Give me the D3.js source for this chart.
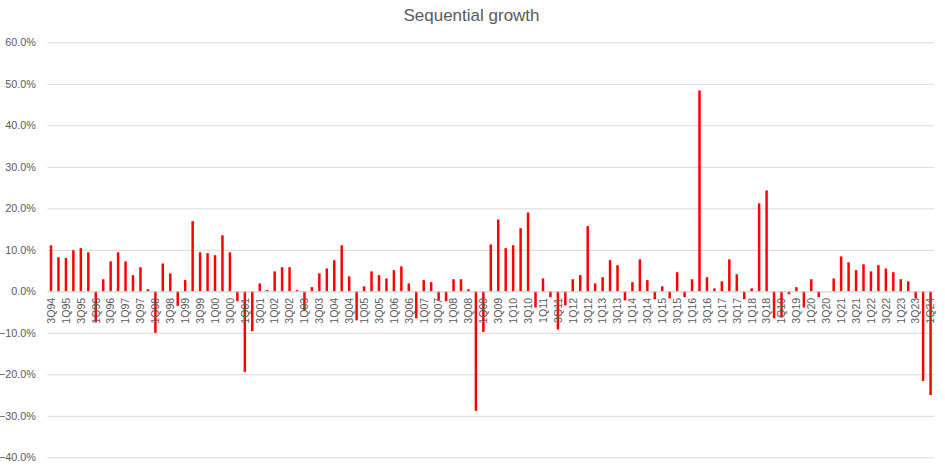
<!DOCTYPE html>
<html>
<head>
<meta charset="utf-8">
<script src="https://cdn.jsdelivr.net/npm/d3@7"></script>
<style>
  html, body { margin: 0; padding: 0; background: #ffffff; }
  svg { display: block; }
</style>
</head>
<body>
<svg id="chart" width="945" height="467"></svg>
<script>
const title = "Sequential growth";

const quarters = [
  "3Q94","4Q94",
  "1Q95","2Q95","3Q95","4Q95",
  "1Q96","2Q96","3Q96","4Q96",
  "1Q97","2Q97","3Q97","4Q97",
  "1Q98","2Q98","3Q98","4Q98",
  "1Q99","2Q99","3Q99","4Q99",
  "1Q00","2Q00","3Q00","4Q00",
  "1Q01","2Q01","3Q01","4Q01",
  "1Q02","2Q02","3Q02","4Q02",
  "1Q03","2Q03","3Q03","4Q03",
  "1Q04","2Q04","3Q04","4Q04",
  "1Q05","2Q05","3Q05","4Q05",
  "1Q06","2Q06","3Q06","4Q06",
  "1Q07","2Q07","3Q07","4Q07",
  "1Q08","2Q08","3Q08","4Q08",
  "1Q09","2Q09","3Q09","4Q09",
  "1Q10","2Q10","3Q10","4Q10",
  "1Q11","2Q11","3Q11","4Q11",
  "1Q12","2Q12","3Q12","4Q12",
  "1Q13","2Q13","3Q13","4Q13",
  "1Q14","2Q14","3Q14","4Q14",
  "1Q15","2Q15","3Q15","4Q15",
  "1Q16","2Q16","3Q16","4Q16",
  "1Q17","2Q17","3Q17","4Q17",
  "1Q18","2Q18","3Q18","4Q18",
  "1Q19","2Q19","3Q19","4Q19",
  "1Q20","2Q20","3Q20","4Q20",
  "1Q21","2Q21","3Q21","4Q21",
  "1Q22","2Q22","3Q22","4Q22",
  "1Q23","2Q23","3Q23","4Q23",
  "1Q24"
];

// sequential growth, in percent
const growth = [
  11.1, 8.2,
  8.0, 9.9, 10.4, 9.4,
  -7.5, 2.9, 7.2, 9.4,
  7.2, 3.9, 5.8, 0.5,
  -10.0, 6.7, 4.3, -3.5,
  2.7, 16.9, 9.4, 9.2,
  8.7, 13.5, 9.4, -2.4,
  -19.4, -9.6, 1.9, 0.3,
  4.8, 5.8, 5.8, 0.3,
  -4.7, 1.0, 4.3, 5.5,
  7.5, 11.1, 3.6, -7.0,
  1.2, 4.8, 3.9, 3.1,
  5.1, 6.0, 1.9, -6.5,
  2.7, 2.2, -2.2, -2.4,
  2.9, 2.9, 0.5, -28.8,
  -9.8, 11.3, 17.3, 10.4,
  11.1, 15.2, 19.0, -3.9,
  3.1, -1.4, -9.2, -3.4,
  2.9, 3.9, 15.7, 1.9,
  3.4, 7.5, 6.3, -2.2,
  2.2, 7.7, 2.7, -1.9,
  1.2, -1.7, 4.6, -1.4,
  2.9, 48.4, 3.4, 0.7,
  2.4, 7.7, 4.1, -1.9,
  0.7, 21.2, 24.3, -6.5,
  -6.3, -0.7, 1.0, -3.9,
  2.9, -1.4, 0.0, 3.1,
  8.4, 7.0, 5.1, 6.5,
  4.8, 6.3, 5.5, 4.6,
  2.9, 2.4, -1.7, -21.6,
  -25.0
];

const yTicks = [-40, -30, -20, -10, 0, 10, 20, 30, 40, 50, 60];

const svg = d3.select("#chart");
const W = 945, H = 467;
const margin = { left: 47.3, right: W - 934.3, top: 42.3, bottom: H - 457.3 };
const textColor = "#595959";
const gridColor = "#d9d9d9";
const font = "'Liberation Sans', Arial, sans-serif";

svg.append("rect").attr("width", W).attr("height", H).attr("fill", "#ffffff");

const data = quarters.map((q, i) => ({ q, v: growth[i] }));

const x = d3.scaleBand()
  .domain(quarters)
  .range([margin.left, W - margin.right])
  .paddingInner(0.667)
  .paddingOuter(0.333);

const y = d3.scaleLinear()
  .domain([-40, 60])
  .range([H - margin.bottom, margin.top]);

// gridlines + y labels via axis
const yAxis = d3.axisLeft(y)
  .tickValues(yTicks)
  .tickSize(-(W - margin.left - margin.right))
  .tickPadding(11.5)
  .tickFormat(d => d3.format(".1f")(d) + "%");

const gy = svg.append("g")
  .attr("transform", `translate(${margin.left},0)`)
  .call(yAxis);
gy.select(".domain").remove();
gy.selectAll(".tick line").attr("stroke", gridColor).attr("stroke-width", 1);
gy.selectAll(".tick text")
  .attr("fill", textColor)
  .style("font-family", font)
  .style("font-size", "10.8px");

// bars
svg.append("g")
  .selectAll("rect")
  .data(data)
  .join("rect")
  .attr("x", d => x(d.q))
  .attr("width", x.bandwidth())
  .attr("y", d => y(Math.max(0, d.v)))
  .attr("height", d => Math.abs(y(d.v) - y(0)))
  .attr("fill", "#ff0000");

// category axis labels (every other), rotated, just below zero line
const xAxis = d3.axisBottom(x)
  .tickValues(quarters.filter((q, i) => i % 2 === 0))
  .tickSize(0)
  .tickPadding(0);

const gx = svg.append("g")
  .attr("transform", `translate(0,${y(0)})`)
  .call(xAxis);
gx.select(".domain").attr("stroke", gridColor);
gx.selectAll(".tick text")
  .attr("fill", textColor)
  .style("font-family", font)
  .style("font-size", "10.6px")
  .attr("text-anchor", "end")
  .attr("transform", "rotate(-90)")
  .attr("x", -6.5)
  .attr("y", 0)
  .attr("dy", "0.36em");

// title
svg.append("text")
  .attr("x", 471.5)
  .attr("y", 21)
  .attr("text-anchor", "middle")
  .attr("fill", textColor)
  .style("font-family", font)
  .style("font-size", "17px")
  .text(title);
</script>
</body>
</html>
